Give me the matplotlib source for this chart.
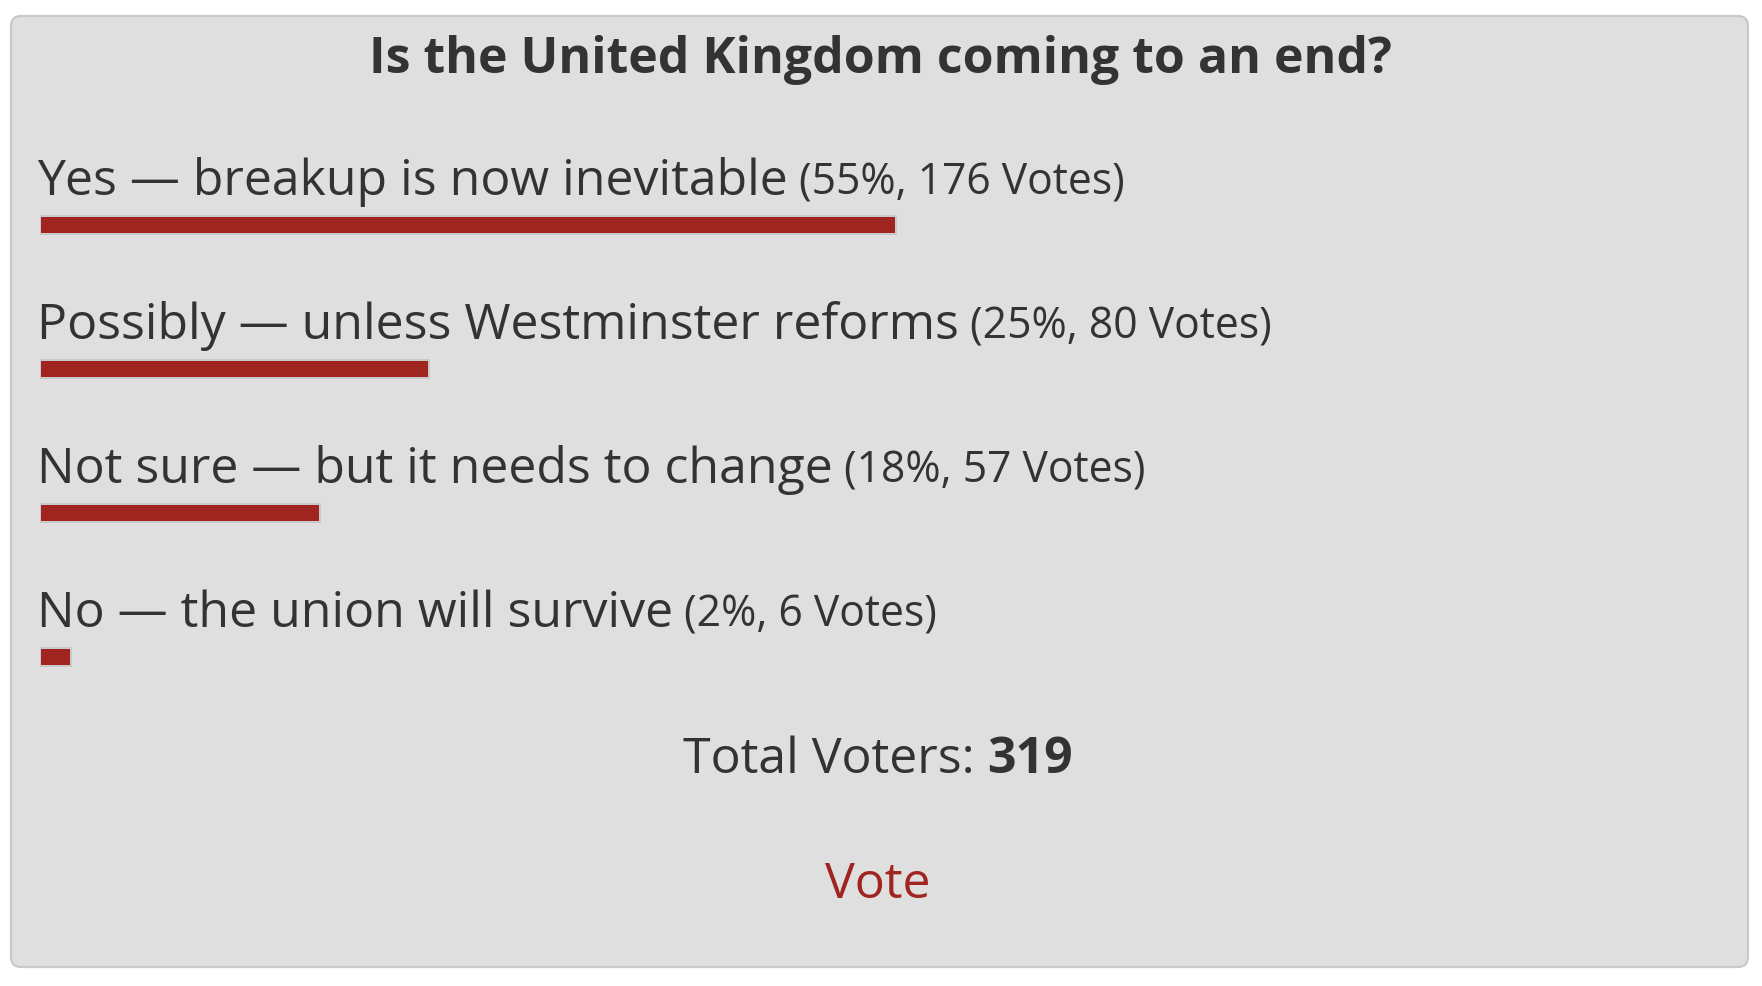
import matplotlib
matplotlib.use("Agg")
import matplotlib.pyplot as plt
from matplotlib.patches import FancyBboxPatch

# datos de la encuesta
opciones = [
    "Yes \u2014 breakup is now inevitable",
    "Possibly \u2014 unless Westminster reforms",
    "Not sure \u2014 but it needs to change",
    "No \u2014 the union will survive",
]
porcentajes = [55, 25, 18, 2]
votos = [176, 80, 57, 6]
total_votos = 319
titulo = "Is the United Kingdom coming to an end?"

W, H = 1762, 986
GRIS_TEXTO = "#333333"
ROJO = "#a0241f"
FONDO = "#dfdfdf"
BORDE = "#c9c9c9"
plt.rcParams["font.family"] = ["Open Sans", "DejaVu Sans"]

fig = plt.figure(figsize=(W / 100, H / 100), dpi=100)
fig.patch.set_facecolor("white")

# capa de fondo en pixeles
bg = fig.add_axes([0, 0, 1, 1])
bg.set_xlim(0, W)
bg.set_ylim(H, 0)
bg.axis("off")
caja = FancyBboxPatch((11, 16), 1737, 951, boxstyle="round,pad=0,rounding_size=10",
                      facecolor=FONDO, edgecolor=BORDE, linewidth=1.6)
bg.add_patch(caja)

bg.text(880, 73, titulo, ha="center", va="baseline", fontsize=36,
        fontweight="bold", color=GRIS_TEXTO)

# barras
ax = fig.add_axes([40 / W, 1 - 729 / H, 1556 / W, 576 / H])
ax.set_xlim(0, 100)
ax.set_ylim(len(opciones) - 0.5, -0.5)
ax.axis("off")
ax.barh(range(len(opciones)), porcentajes, height=18 / 144, left=0,
        color=ROJO, edgecolor=BORDE, linewidth=1.44)

etiquetas = []
for i, op in enumerate(opciones):
    t = ax.annotate(op, xy=(0, i), xytext=(-3, 30), textcoords="offset pixels",
                    ha="left", va="baseline", fontsize=36, color=GRIS_TEXTO,
                    annotation_clip=False)
    etiquetas.append(t)

fig.canvas.draw()
r = fig.canvas.get_renderer()
for i, t in enumerate(etiquetas):
    bb = t.get_window_extent(r)
    x0 = ax.transData.transform((0, i))[0]
    ax.annotate(f"({porcentajes[i]}%, {votos[i]} Votes)", xy=(0, i),
                xytext=(bb.x1 - x0 + 11, 30), textcoords="offset pixels",
                ha="left", va="baseline", fontsize=30.7, color=GRIS_TEXTO,
                annotation_clip=False)

# total de votantes
t1 = bg.text(0, 773, "Total Voters: ", ha="left", va="baseline", fontsize=36,
             color=GRIS_TEXTO)
t2 = bg.text(0, 773, str(total_votos), ha="left", va="baseline", fontsize=36,
             fontweight="bold", color=GRIS_TEXTO)
fig.canvas.draw()
w1 = t1.get_window_extent(r).width
w2 = t2.get_window_extent(r).width
x_ini = 878 - (w1 + w2) / 2
t1.set_x(x_ini)
t2.set_x(x_ini + w1)

bg.text(878, 898, "Vote", ha="center", va="baseline", fontsize=36, color=ROJO)

fig.savefig("out.png", dpi=100, facecolor="white")
